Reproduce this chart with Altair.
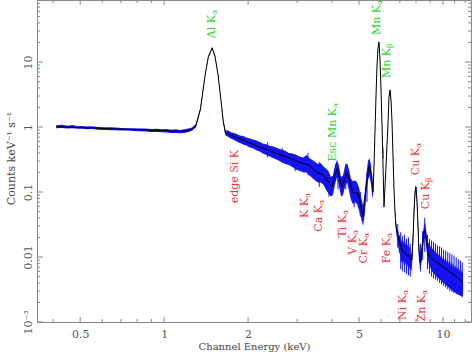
import altair as alt
import pandas as pd

# ---------------- data ----------------
# fitted model (black line)
model_e = [0.41, 0.45, 0.50, 0.55, 0.60, 0.70, 0.80, 0.90, 1.00, 1.10, 1.20, 1.26, 1.30, 1.35, 1.40, 1.44,
           1.486, 1.52, 1.56, 1.60, 1.63, 1.66, 1.75, 1.87, 2.00, 2.26, 2.50, 2.83, 3.10, 3.30, 3.53, 3.68,
           3.85, 4.00, 4.17, 4.34, 4.53, 4.75, 4.96, 5.17, 5.30, 5.42, 5.55, 5.612, 5.658, 5.705, 5.752,
           5.799, 5.848, 5.896, 5.945, 5.994, 6.043, 6.093, 6.143, 6.194, 6.245, 6.297, 6.349, 6.401,
           6.457, 6.509, 6.564, 6.618, 6.673, 6.729, 6.784, 7.01, 7.19, 7.37, 7.55, 7.68, 7.74, 7.81,
           7.87, 7.94, 8.00, 8.07, 8.14, 8.20, 8.27, 8.34, 8.41, 8.48, 8.55, 8.62, 8.69, 8.76, 8.83,
           8.98, 9.76, 10.6, 11.8]
model_v = [1.01, 1.00, 0.98, 0.97, 0.95, 0.93, 0.91, 0.89, 0.88, 0.86, 0.86, 0.92, 1.05, 1.9, 6.0, 12.0,
           16.5, 12.5, 6.5, 2.5, 1.2, 0.80, 0.74, 0.66, 0.58, 0.47, 0.40, 0.33, 0.28, 0.26, 0.20, 0.19,
           0.15, 0.12, 0.23, 0.12, 0.20, 0.098, 0.095, 0.042, 0.12, 0.25, 0.18, 0.10, 0.26, 0.90, 3.1,
           9.0, 16.4, 20.3, 10.7, 3.7, 1.07, 0.26, 0.059, 0.12, 0.25, 0.53, 1.1, 2.9,
           3.7, 2.6, 1.2, 0.35, 0.107, 0.048, 0.029, 0.016, 0.012, 0.011, 0.0105, 0.009, 0.009, 0.02,
           0.05, 0.10, 0.119, 0.07, 0.028, 0.012, 0.0085, 0.009, 0.012, 0.018, 0.025, 0.026, 0.02, 0.015, 0.012,
           0.0098, 0.0077, 0.0059, 0.0041]

# measured spectrum (blue), as lower / upper envelope of the noisy data
data_e = [0.41, 0.43, 0.45, 0.47, 0.49, 0.51, 0.53, 0.55, 0.58, 0.61, 0.64, 0.67, 0.70, 0.74, 0.78, 0.82,
          0.86, 0.90, 0.94, 0.98, 1.02, 1.06, 1.10, 1.14, 1.18, 1.22, 1.26, 1.30, 1.35, 1.40, 1.44, 1.486,
          1.52, 1.56, 1.60, 1.63, 1.66, 1.70, 1.74, 1.78, 1.82, 1.87, 1.92, 1.97, 2.02, 2.08, 2.14, 2.20,
          2.26, 2.33, 2.40, 2.47, 2.55, 2.63, 2.72, 2.80, 2.89, 2.98, 3.07, 3.16, 3.24, 3.32, 3.40, 3.48,
          3.56, 3.64, 3.72, 3.80, 3.88, 3.96, 4.03, 4.10, 4.17, 4.24, 4.31, 4.38, 4.45, 4.53, 4.60, 4.68,
          4.76, 4.84, 4.92, 5.00, 5.08, 5.17, 5.24, 5.31, 5.38, 5.45, 5.52, 5.58, 5.612, 5.658, 5.705,
          5.752, 5.799, 5.848, 5.896, 5.945, 5.994, 6.043, 6.09, 6.12,
          6.245, 6.297, 6.349, 6.401, 6.457, 6.509, 6.564, 6.618, 6.673, 6.729, 6.784, 6.84, 6.90, 6.95,
          7.01, 7.06, 7.12, 7.18, 7.24, 7.30, 7.36, 7.42, 7.48, 7.54, 7.60, 7.66, 7.72, 7.81, 7.87, 7.94,
          8.00, 8.07, 8.14, 8.20, 8.27, 8.34, 8.41, 8.48, 8.55, 8.62, 8.69, 8.76, 8.83, 8.90, 8.98, 9.06,
          9.14, 9.22, 9.30, 9.38, 9.46, 9.54, 9.62, 9.70, 9.78, 9.86, 9.94, 10.03, 10.12, 10.21, 10.30,
          10.39, 10.48, 10.57, 10.66, 10.75, 10.84, 10.93, 11.02, 11.11, 11.20, 11.30, 11.40, 11.50,
          11.60, 11.70, 11.80]
data_lo = [0.96, 0.97, 0.95, 0.96, 0.94, 0.94, 0.92, 0.93, 0.91, 0.90, 0.89, 0.89, 0.88, 0.88, 0.87, 0.86,
           0.85, 0.84, 0.84, 0.83, 0.82, 0.81, 0.81, 0.80, 0.81, 0.84, 0.88, 0.98, 1.8, 5.8, 11.6, 16.0,
           12.1, 6.3, 2.4, 1.12, 0.74, 0.70, 0.66, 0.63, 0.60, 0.57, 0.54, 0.52, 0.49, 0.47, 0.44, 0.42,
           0.39, 0.37, 0.35, 0.33, 0.31, 0.29, 0.27, 0.26, 0.24, 0.22, 0.21, 0.20, 0.20, 0.18, 0.165, 0.15,
           0.14, 0.14, 0.13, 0.11, 0.095, 0.085, 0.09, 0.13, 0.17, 0.12, 0.085, 0.09, 0.12, 0.14, 0.105, 0.075,
           0.065, 0.07, 0.065, 0.052, 0.04, 0.03, 0.045, 0.09, 0.15, 0.18, 0.13, 0.08, 0.09, 0.24, 0.85,
           2.9, 8.6, 15.8, 19.8, 10.3, 3.55, 1.0, 0.33, 0.32,
           0.23, 0.50, 1.05, 2.8, 3.6, 2.5, 1.15, 0.33, 0.10, 0.043, 0.025, 0.019, 0.015, 0.012,
           0.011, 0.009, 0.008, 0.009, 0.0075, 0.0085, 0.0075, 0.008, 0.007, 0.0075, 0.0065, 0.0065, 0.006, 0.015, 0.04, 0.085,
           0.11, 0.06, 0.022, 0.009, 0.0065, 0.0075, 0.009, 0.014, 0.019, 0.02, 0.015, 0.011, 0.009, 0.0075, 0.007, 0.0065,
           0.006, 0.0058, 0.0055, 0.0053, 0.005, 0.005, 0.0047, 0.0046, 0.0044, 0.0043, 0.0041, 0.004, 0.0039, 0.0037, 0.0036,
           0.0035, 0.0034, 0.0033, 0.0032, 0.0031, 0.003, 0.0029, 0.0029, 0.0028, 0.0027, 0.0027, 0.0026, 0.0026,
           0.0025, 0.0025, 0.0028]
data_hi = [1.06, 1.08, 1.05, 1.07, 1.03, 1.04, 1.02, 1.03, 1.00, 0.99, 0.99, 0.98, 0.97, 0.96, 0.96, 0.95,
           0.95, 0.93, 0.94, 0.92, 0.93, 0.91, 0.92, 0.90, 0.92, 0.95, 0.98, 1.12, 2.0, 6.2, 12.4, 17.0,
           12.9, 6.7, 2.6, 1.28, 0.88, 0.88, 0.82, 0.81, 0.78, 0.74, 0.73, 0.69, 0.67, 0.64, 0.62, 0.59,
           0.56, 0.54, 0.51, 0.50, 0.47, 0.45, 0.43, 0.40, 0.39, 0.37, 0.35, 0.34, 0.37, 0.33, 0.31, 0.29,
           0.27, 0.28, 0.25, 0.23, 0.21, 0.17, 0.18, 0.26, 0.31, 0.24, 0.17, 0.18, 0.25, 0.28, 0.22, 0.16,
           0.145, 0.15, 0.14, 0.115, 0.085, 0.062, 0.10, 0.18, 0.30, 0.33, 0.26, 0.145, 0.11, 0.28, 0.95,
           3.2, 9.4, 17.0, 20.8, 11.1, 3.85, 1.15, 0.52, 0.45,
           0.27, 0.56, 1.15, 3.0, 3.8, 2.7, 1.25, 0.38, 0.115, 0.053, 0.034, 0.028, 0.026, 0.021,
           0.022, 0.017, 0.019, 0.016, 0.018, 0.015, 0.017, 0.014, 0.016, 0.013, 0.015, 0.012, 0.011, 0.025, 0.06, 0.115,
           0.13, 0.08, 0.034, 0.016, 0.011, 0.013, 0.017, 0.024, 0.032, 0.034, 0.027, 0.021, 0.017, 0.016, 0.014, 0.015,
           0.013, 0.014, 0.012, 0.0135, 0.011, 0.0125, 0.0105, 0.012, 0.0098, 0.011, 0.0092, 0.0105, 0.0088, 0.0098, 0.0083,
           0.0094, 0.0078, 0.0089, 0.0074, 0.0085, 0.007, 0.008, 0.0066, 0.0076, 0.0063, 0.0072, 0.006, 0.0068,
           0.0057, 0.0064, 0.0055]
N1 = 104  # first data segment (up to the Mn K-alpha shoulder)

# individual noisy data excursions (error-bar spikes)
spike_e = [2.35, 2.65, 2.95, 3.28, 3.60, 3.90, 4.20, 4.48, 4.80, 5.05, 5.34,
           6.88, 7.05, 7.15, 7.28, 7.40, 7.52, 7.63, 8.30, 8.45, 8.60, 8.80, 8.95, 9.10, 9.25, 9.40, 9.55,
           9.72, 9.88, 10.05, 10.22, 10.40, 10.58, 10.76, 10.95, 11.15, 11.35, 11.55, 11.72]
spike_lo = [0.34, 0.28, 0.21, 0.18, 0.12, 0.085, 0.11, 0.11, 0.058, 0.042, 0.07,
            0.014, 0.0065, 0.006, 0.0058, 0.0055, 0.0052, 0.005, 0.006, 0.009, 0.012, 0.0065, 0.0055, 0.005,
            0.0047, 0.0045, 0.0043, 0.004, 0.0038, 0.0036, 0.0034, 0.0032, 0.003, 0.0029, 0.0028, 0.0027,
            0.0026, 0.0025, 0.0024]
spike_hi = [0.58, 0.48, 0.38, 0.40, 0.29, 0.19, 0.27, 0.27, 0.15, 0.10, 0.20,
            0.032, 0.024, 0.021, 0.022, 0.019, 0.02, 0.016, 0.016, 0.025, 0.04, 0.022, 0.019, 0.018, 0.017,
            0.016, 0.015, 0.0145, 0.014, 0.013, 0.0125, 0.012, 0.0115, 0.011, 0.0105, 0.0098, 0.0092,
            0.0088, 0.0082]

# line identifications
lab_main = ["Al K", "edge Si K", "K K", "Ca K", "Esc Mn K", "Mn K", "Mn K", "Ti K", "V K", "Cr K",
            "Fe K", "Cu K", "Cu K", "Ni K", "Zn K"]
lab_sub = ["α", "", "α", "α", "α", "α", "β", "α", "α", "α", "α", "α", "β", "α", "α"]
lab_e = [1.486, 1.797, 3.20, 3.59, 4.03, 5.80, 6.30, 4.38, 4.76, 5.21, 6.30, 8.00, 8.69, 7.19, 8.41]
lab_v = [52.9, 0.443, 0.0809, 0.0631, 1.96, 75.3, 16.4, 0.0443, 0.0218, 0.0196, 0.0196, 0.475, 0.1426,
         0.0026, 0.0026]
lab_col = ["#2fd02f", "#ee3333", "#ee3333", "#ee3333", "#2fd02f", "#2fd02f", "#2fd02f", "#ee3333",
           "#ee3333", "#ee3333", "#ee3333", "#ee3333", "#ee3333", "#ee3333", "#ee3333"]

# axis ticks
x_major = [0.5, 1, 2, 5, 10]
x_minor = [0.4, 0.6, 0.7, 0.8, 0.9, 3, 4, 6, 7, 8, 9, 11, 12]
y_major = [0.001, 0.01, 0.1, 1, 10]
y_minor = [m * d for d in [0.001, 0.01, 0.1, 1, 10] for m in range(2, 10) if m * d < 90]

# ---------------- chart ----------------
W, H = 434, 322
FONT = "DejaVu Serif"
BLUE = "#1414f0"
AX = "#888888"

model_df = pd.DataFrame({"E": model_e, "V": model_v})
seg1 = pd.DataFrame({"E": data_e[:N1], "lo": data_lo[:N1], "hi": data_hi[:N1]})
seg2 = pd.DataFrame({"E": data_e[N1:], "lo": data_lo[N1:], "hi": data_hi[N1:]})
spk = pd.DataFrame({"E": spike_e, "lo": spike_lo, "hi": spike_hi})
lab_df = pd.DataFrame({"E": lab_e, "V": lab_v, "main": lab_main, "sub": lab_sub, "col": lab_col})

xs = alt.Scale(type="log", domain=[0.35, 12.6], nice=False)
ys = alt.Scale(type="log", domain=[0.001, 90], nice=False)

xaxis = alt.Axis(values=x_major, format="~g", tickSize=0, domain=False, grid=False,
                 labelFont=FONT, labelFontSize=11, labelColor="#555555", labelPadding=6,
                 title="Channel Energy (keV)", titleFont=FONT, titleFontSize=10,
                 titleFontWeight="normal", titleColor="#444444", titlePadding=2)
yaxis = alt.Axis(values=y_major, format="~g",
                 labelExpr="datum.value < 0.002 ? '10⁻³' : datum.label",
                 labelAngle=270, tickSize=0, domain=False, grid=False,
                 labelFont=FONT, labelFontSize=11, labelColor="#555555", labelPadding=4,
                 title="Counts keV⁻¹ s⁻¹", titleFont=FONT, titleFontSize=11,
                 titleFontWeight="normal", titleColor="#444444",
                 titleX=-21, titleY=158, titleAngle=270, titleAlign="center",
                 titleBaseline="bottom")


def X(field):
    return alt.X(field, type="quantitative", scale=xs, axis=xaxis)


def Y(field, **kw):
    return alt.Y(field, type="quantitative", scale=ys, axis=yaxis, **kw)


def band_layer(df):
    return alt.Chart(df).mark_area(color=BLUE, clip=True).encode(
        x=X("E"), y=Y("lo", stack=None), y2="hi")


spikes = alt.Chart(spk).mark_rule(color=BLUE, strokeWidth=1, clip=True).encode(
    x=X("E"), y=Y("lo"), y2="hi")

model = alt.Chart(model_df).mark_line(color="#000000", strokeWidth=1, clip=True).encode(
    x=X("E"), y=Y("V"))

main_txt = alt.Chart(lab_df).mark_text(angle=270, align="right", baseline="middle",
                                       font=FONT, fontSize=11).encode(
    x=X("E"), y=Y("V"), text="main:N", color=alt.Color("col:N", scale=None))
sub_txt = alt.Chart(lab_df).mark_text(angle=270, align="left", baseline="middle",
                                      font=FONT, fontSize=8, dy=3).encode(
    x=X("E"), y=Y("V"), text="sub:N", color=alt.Color("col:N", scale=None))


def xticks(vals, y0, y1):
    return alt.Chart(pd.DataFrame({"E": vals})).mark_rule(color=AX, strokeWidth=1).encode(
        x=X("E"), y=alt.value(y0), y2=alt.value(y1))


def yticks(vals, x0, x1):
    return alt.Chart(pd.DataFrame({"V": vals})).mark_rule(color=AX, strokeWidth=1).encode(
        y=Y("V"), x=alt.value(x0), x2=alt.value(x1))


ticks = [
    xticks(x_major, H, H - 5), xticks(x_minor, H, H - 3),
    xticks(x_major, 0, 5), xticks(x_minor, 0, 3),
    yticks(y_major, 0, 6), yticks(y_minor, 0, 3),
    yticks(y_major, W, W - 6), yticks(y_minor, W, W - 3),
]

chart = alt.layer(band_layer(seg1), band_layer(seg2), spikes, model, *ticks, main_txt, sub_txt).properties(
    width=W, height=H,
    autosize=alt.AutoSizeParams(type="none"),
    padding={"left": 37, "top": 0, "right": 3, "bottom": 30},
).configure_view(stroke=AX, strokeWidth=1)

chart.save("out.html", embed_options={"renderer": "svg", "actions": False})
